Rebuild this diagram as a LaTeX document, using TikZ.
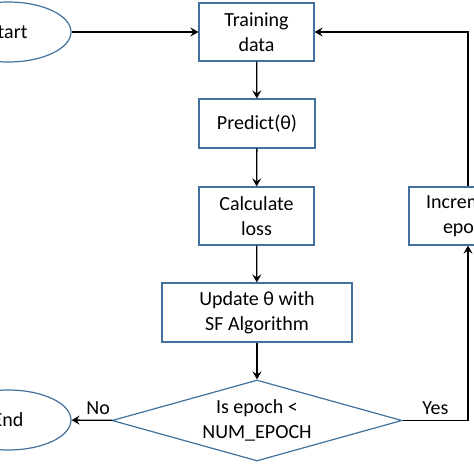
\documentclass[tikz,border=0pt]{standalone}
\usepackage{fontspec}
\setmainfont{Carlito}
\usepackage{xcolor}
\usetikzlibrary{arrows.meta, shapes.geometric}
\definecolor{boxblue}{RGB}{65,113,156}

\tikzset{
  stepbox/.style={draw=boxblue, line width=1.2pt, fill=white, inner sep=0pt,
    align=center, font=\fontsize{20}{25}\selectfont},
  terminal/.style={ellipse, draw=boxblue, line width=1.2pt, fill=white,
    inner sep=0pt, minimum width=126pt, minimum height=60pt,
    font=\fontsize{20}{25}\selectfont},
  decision/.style={diamond, draw=boxblue, line width=1.2pt, fill=white,
    inner sep=0pt, aspect=3.58, minimum width=290pt, minimum height=81pt,
    align=center, font=\fontsize{20}{25}\selectfont},
  flow/.style={-{Stealth[length=8pt,width=9pt,inset=3pt]}, line width=1.3pt}
}

\begin{document}
\begin{tikzpicture}[x=1pt,y=-1pt]
  \useasboundingbox (0,0) rectangle (474,474);
  % main column
  \node[terminal] (start) at (8,32) {Start};
  \node[stepbox, minimum width=115pt, minimum height=58pt] (train) at (256.5,32) {Training\\data};
  \node[stepbox, minimum width=116pt, minimum height=49pt] (predict) at (257,123.5) {Predict(θ)};
  \node[stepbox, minimum width=115pt, minimum height=58pt] (loss) at (256.5,216) {Calculate\\loss};
  \node[stepbox, minimum width=190pt, minimum height=59pt] (update) at (257,312.5) {Update θ with\\SF Algorithm};
  \node[decision] (check) at (257,420.5) {Is epoch <\\NUM\_EPOCH};
  \node[terminal] (finish) at (8,420) {End};
  % loop back
  \node[stepbox, minimum width=118pt, minimum height=58pt] (incr) at (468,216) {Increment\\epoch};

  \draw[flow] (start) -- (train);
  \draw[flow] (train) -- (predict);
  \draw[flow] (predict) -- (loss);
  \draw[flow] (loss) -- (update);
  \draw[flow] (update) -- (check);
  \draw[flow] (check) -- node[pos=0.35, above=2pt, font=\fontsize{20}{25}\selectfont] (no) {No} (finish);
  \draw[flow] (check.east) -| node[pos=0.25, above=2pt, font=\fontsize{20}{25}\selectfont] (yes) {Yes} (incr.south);
  \draw[flow] (incr.north) |- (train.east);
\end{tikzpicture}
\end{document}
